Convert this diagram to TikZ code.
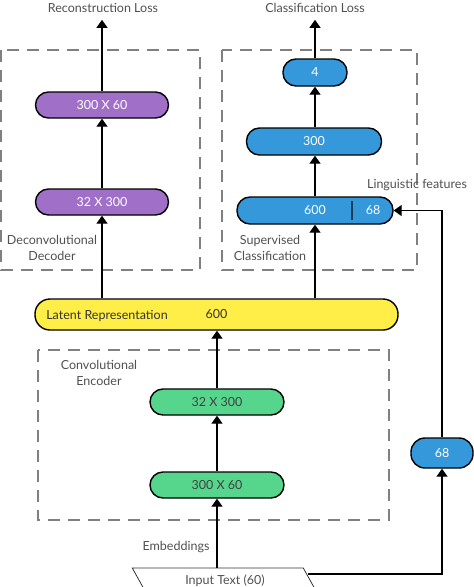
\documentclass[tikz,border=0pt]{standalone}
\usepackage{fontspec}
\setmainfont{Lato}
\usepackage{xcolor}
\usetikzlibrary{positioning,arrows.meta,shapes.geometric}

\definecolor{decpurple}{HTML}{A070C8}
\definecolor{clsblue}{HTML}{3498DB}
\definecolor{encgreen}{HTML}{55D68C}
\definecolor{latyellow}{HTML}{FFEE48}
\definecolor{txtgray}{HTML}{505050}
\definecolor{boxgray}{HTML}{808080}

\tikzset{
    layer/.style={draw=black, line width=1.4pt, rounded corners=13pt, minimum height=26pt, inner sep=0pt, font=\fontsize{12.5}{14}\selectfont},
    lbl/.style={text=txtgray, align=center, inner sep=1pt, font=\fontsize{12.5}{15.5}\selectfont},
    conn/.style={line width=1.4pt, -{Triangle[width=11pt,length=8pt]}},
    group/.style={draw=boxgray, line width=1.8pt, dash pattern=on 12pt off 8pt}
}

\begin{document}
\begin{tikzpicture}[x=1pt, y=-1pt]
    \useasboundingbox (0,0) rectangle (474,587);

    % dashed groups
    \draw[group] (1,50) rectangle (200,270);
    \draw[group] (222,50) rectangle (417,270);
    \draw[group] (38,350) rectangle (389,520);

    % decoder
    \node[lbl] (recloss) at (103,8) {Reconstruction Loss};
    \node[layer, fill=decpurple, text=white, minimum width=133pt] (dec1) at (102,105) {300 X 60};
    \node[layer, fill=decpurple, text=white, minimum width=133pt] (dec2) at (102,202) {32 X 300};
    \node[lbl] (declbl) at (52,248) {Deconvolutional\\Decoder};

    % classifier
    \node[lbl] (clsloss) at (315,8) {Classification Loss};
    \node[layer, fill=clsblue, text=white, minimum width=64pt, minimum height=27pt] (cls3) at (315,72.5) {4};
    \node[layer, fill=clsblue, text=white, minimum width=135pt, minimum height=27pt] (cls2) at (314,141.5) {300};
    \node[layer, fill=clsblue, text=white, minimum width=156pt, minimum height=27pt] (cls1) at (315,210.5) {600};
    \node[text=white, font=\fontsize{12.5}{14}\selectfont] (cls1b) at (373,210.5) {68};
    \draw[line width=1.6pt, draw=clsblue!40!black] (352,201) -- (352,220);
    \node[lbl] (suplbl) at (270,248) {Supervised\\Classification};
    \node[lbl] (featlbl) at (417,185) {Linguistic features};

    % latent
    \node[layer, fill=latyellow, text=black!80, minimum width=363pt, minimum height=31pt, rounded corners=15pt] (latent) at (216.5,314.5) {600};
    \node[text=black!80, font=\fontsize{12.5}{14}\selectfont] (latlbl) at (107,316) {Latent Representation};

    % encoder
    \node[lbl] (enclbl) at (99,373) {Convolutional\\Encoder};
    \node[layer, fill=encgreen, text=black!75, minimum width=134pt] (enc2) at (217,402) {32 X 300};
    \node[layer, fill=encgreen, text=black!75, minimum width=134pt] (enc1) at (217,485) {300 X 60};
    \node[lbl] (emblbl) at (176,547) {Embeddings};

    % input and features
    \node[draw=black!80, line width=0.8pt, trapezium, trapezium left angle=120, trapezium right angle=60,
          trapezium stretches=true, minimum width=186pt, minimum height=26pt, inner sep=0pt,
          text=txtgray, font=\fontsize{12.5}{14}\selectfont] (inp) at (225,581) {\raisebox{3pt}{Input Text (60)}};
    \node[layer, fill=clsblue, text=white, minimum width=62pt, minimum height=30pt, rounded corners=14pt] (feat) at (442,453) {68};

    % connectors
    \draw[conn] (dec1) -- ([yshift=-6pt]dec1 |- recloss.south);
    \draw[conn] (dec2) -- (dec1);
    \draw[conn] (latent.north -| dec2) -- (dec2);
    \draw[conn] (cls3) -- ([yshift=-6pt]cls3 |- clsloss.south);
    \draw[conn] (cls2.north -| cls3) -- (cls3);
    \draw[conn] (cls1.north -| cls3) -- (cls2.south -| cls3);
    \draw[conn] (latent.north -| cls3) -- (cls1.south -| cls3);
    \draw[conn] (enc2) -- (enc2 |- latent.south);
    \draw[conn] (enc1) -- (enc2);
    \draw[conn] (enc1 |- inp.north) -- (enc1);
    \draw[conn] ([xshift=-3pt, yshift=7pt]inp.east) -| (feat);
    \draw[conn] (feat) |- (cls1.east);
\end{tikzpicture}
\end{document}
